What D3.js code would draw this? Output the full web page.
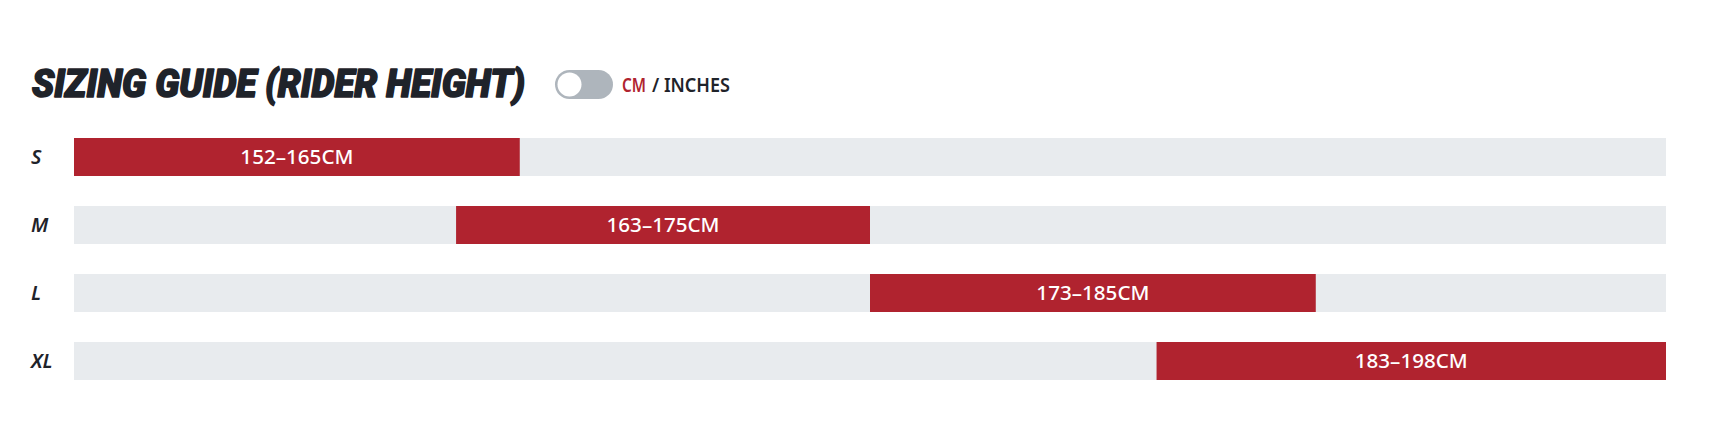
<!DOCTYPE html>
<html>
<head>
<meta charset="utf-8">
<script src="https://cdn.jsdelivr.net/npm/d3@7"></script>
<style>
  html, body { margin: 0; padding: 0; background: #ffffff; }
  svg { display: block; }
</style>
</head>
<body>
<svg id="chart" width="1717" height="431"></svg>
<script>
// ---- data ----
const sizes = ["S", "M", "L", "XL"];
const minHeights = [152, 163, 173, 183];
const maxHeights = [165, 175, 185, 198];
const units = "CM";
const titleText = "SIZING GUIDE (RIDER HEIGHT)";
const toggleOn = "CM";
const toggleOff = "/ INCHES";

// ---- layout ----
const W = 1717, H = 431;
const svg = d3.select("#chart");
const trackX0 = 74, trackX1 = 1666;
const rowTop = 138, rowBottom = 380;

const rows = sizes.map((s, i) => ({ size: s, min: minHeights[i], max: maxHeights[i] }));

// The guide stretches the cm axis piecewise so each size gets a readable band
const bounds = Array.from(new Set(minHeights.concat(maxHeights))).sort((a, b) => a - b);
const fracs = [0, 0.24, 0.28, 0.50, 0.50, 0.68, 0.78, 1];
const x = d3.scaleLinear()
  .domain(bounds)
  .range(fracs.map(f => trackX0 + f * (trackX1 - trackX0)))
  .clamp(true);

const y = d3.scaleBand()
  .domain(sizes)
  .range([rowTop, rowBottom])
  .paddingInner(30 / 68)
  .paddingOuter(0);

// ---- title ----
svg.append("text")
  .attr("x", 32).attr("y", 97)
  .attr("font-family", "Roboto, 'DejaVu Sans', sans-serif")
  .attr("font-weight", 900)
  .attr("font-style", "italic")
  .attr("font-size", 38)
  .attr("fill", "#1f232a")
  .attr("stroke", "#1f232a")
  .attr("stroke-width", 1.6)
  .attr("stroke-linejoin", "round")
  .attr("textLength", 493)
  .attr("lengthAdjust", "spacingAndGlyphs")
  .text(titleText);

// ---- toggle ----
const tg = svg.append("g");
tg.append("rect")
  .attr("x", 555).attr("y", 70)
  .attr("width", 58).attr("height", 29)
  .attr("rx", 14.5)
  .attr("fill", "#aeb5bc");
tg.append("circle")
  .attr("cx", 569.5).attr("cy", 84.5).attr("r", 12)
  .attr("fill", "#ffffff");

const toggleFont = "'Noto Sans', 'Open Sans', sans-serif";
svg.append("text")
  .attr("x", 622).attr("y", 92)
  .attr("font-family", toggleFont)
  .attr("font-weight", 600)
  .attr("font-size", 20)
  .attr("fill", "#b0232f")
  .attr("textLength", 24)
  .attr("lengthAdjust", "spacingAndGlyphs")
  .text(toggleOn);
svg.append("text")
  .attr("x", 652).attr("y", 92)
  .attr("font-family", toggleFont)
  .attr("font-weight", 600)
  .attr("font-size", 20)
  .attr("fill", "#1f232a")
  .attr("textLength", 78)
  .attr("lengthAdjust", "spacingAndGlyphs")
  .text(toggleOff);

// ---- rows ----
const g = svg.append("g");

g.selectAll("rect.track")
  .data(rows)
  .join("rect")
  .attr("class", "track")
  .attr("x", trackX0)
  .attr("y", d => y(d.size))
  .attr("width", trackX1 - trackX0)
  .attr("height", y.bandwidth())
  .attr("fill", "#e8ebee");

g.selectAll("rect.range")
  .data(rows)
  .join("rect")
  .attr("class", "range")
  .attr("x", d => x(d.min))
  .attr("y", d => y(d.size))
  .attr("width", d => x(d.max) - x(d.min))
  .attr("height", y.bandwidth())
  .attr("fill", "#b0232f");

g.selectAll("text.rlabel")
  .data(rows)
  .join("text")
  .attr("class", "rlabel")
  .attr("x", d => (x(d.min) + x(d.max)) / 2)
  .attr("y", d => y(d.size) + y.bandwidth() / 2)
  .attr("dy", "0.36em")
  .attr("text-anchor", "middle")
  .attr("font-family", "'Noto Sans', 'Open Sans', sans-serif")
  .attr("font-weight", 500)
  .attr("font-size", 19)
  .attr("fill", "#ffffff")
  .attr("textLength", 113)
  .attr("lengthAdjust", "spacingAndGlyphs")
  .text(d => `${d.min}–${d.max}${units}`);

g.selectAll("text.size")
  .data(rows)
  .join("text")
  .attr("class", "size")
  .attr("x", 31)
  .attr("y", d => y(d.size) + y.bandwidth() / 2)
  .attr("dy", "0.36em")
  .attr("font-family", "'Noto Sans', 'Open Sans', sans-serif")
  .attr("font-weight", 600)
  .attr("font-style", "italic")
  .attr("font-size", 20)
  .attr("fill", "#1f232a")
  .text(d => d.size);
</script>
</body>
</html>
